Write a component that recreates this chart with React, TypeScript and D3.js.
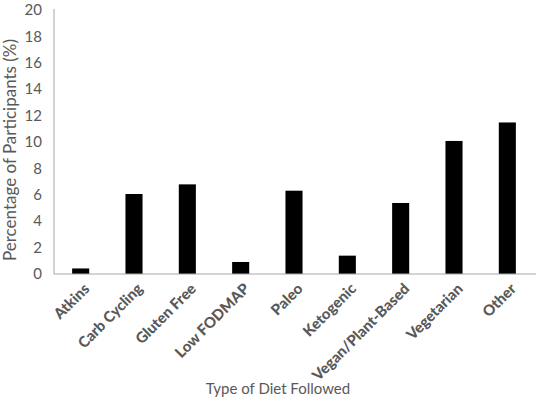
import * as d3 from 'd3'

const diets = [
  'Atkins',
  'Carb Cycling',
  'Gluten Free',
  'Low FODMAP',
  'Paleo',
  'Ketogenic',
  'Vegan/Plant-Based',
  'Vegetarian',
  'Other',
]
const percentages = [0.42, 6.06, 6.79, 0.91, 6.31, 1.39, 5.38, 10.08, 11.48]
const yTicks = [0, 2, 4, 6, 8, 10, 12, 14, 16, 18, 20]

const W = 536
const H = 402
const margin = { top: 10, right: 2, bottom: 128, left: 54 }
const font = 'Lato, "Open Sans", sans-serif'
const textColor = '#595959'
const axisColor = '#a6a6a6'

export default function App() {
  const x = d3.scaleBand<string>()
    .domain(diets)
    .range([margin.left, W - margin.right])
    .paddingInner(0.68)
    .paddingOuter(0.34)

  const y = d3.scaleLinear()
    .domain([0, 20])
    .range([H - margin.bottom, margin.top])

  const y0 = y(0)

  return (
    <>
      <style>{'body{margin:0}'}</style>
      <svg width={W} height={H} style={{ display: 'block', background: '#fff' }}>
        {/* y tick labels */}
        {yTicks.map(t => (
          <text
            key={t}
            x={margin.left - 12}
            y={y(t)}
            dy="0.35em"
            textAnchor="end"
            fontFamily={font}
            fontSize={15}
            fill={textColor}
          >
            {t}
          </text>
        ))}

        {/* bars */}
        {diets.map((d, i) => (
          <rect
            key={d}
            x={x(d)}
            y={y(percentages[i])}
            width={x.bandwidth()}
            height={y0 - y(percentages[i])}
            fill="#000"
          />
        ))}

        {/* axes */}
        <line x1={margin.left} x2={margin.left} y1={margin.top - 1} y2={y0} stroke={axisColor} strokeWidth={1} />
        <line x1={margin.left} x2={W} y1={y0} y2={y0} stroke={axisColor} strokeWidth={1} />

        {/* category labels */}
        {diets.map(d => {
          const cx = x(d)! + x.bandwidth() / 2 + 6
          const cy = y0 + 12
          return (
            <text
              key={d}
              transform={`translate(${cx},${cy}) rotate(-45)`}
              textAnchor="end"
              dy="0.35em"
              fontFamily={font}
              fontSize={15}
              fontWeight={900}
              fill={textColor}
            >
              {d}
            </text>
          )
        })}

        {/* axis titles */}
        <text
          transform={`translate(16,${(margin.top + y0) / 2 + 8}) rotate(-90)`}
          textAnchor="middle"
          fontFamily={font}
          fontSize={17}
          fill={textColor}
        >
          Percentage of Participants (%)
        </text>
        <text
          x={278}
          y={394}
          textAnchor="middle"
          fontFamily={font}
          fontSize={15}
          fill={textColor}
        >
          Type of Diet Followed
        </text>
      </svg>
    </>
  )
}
